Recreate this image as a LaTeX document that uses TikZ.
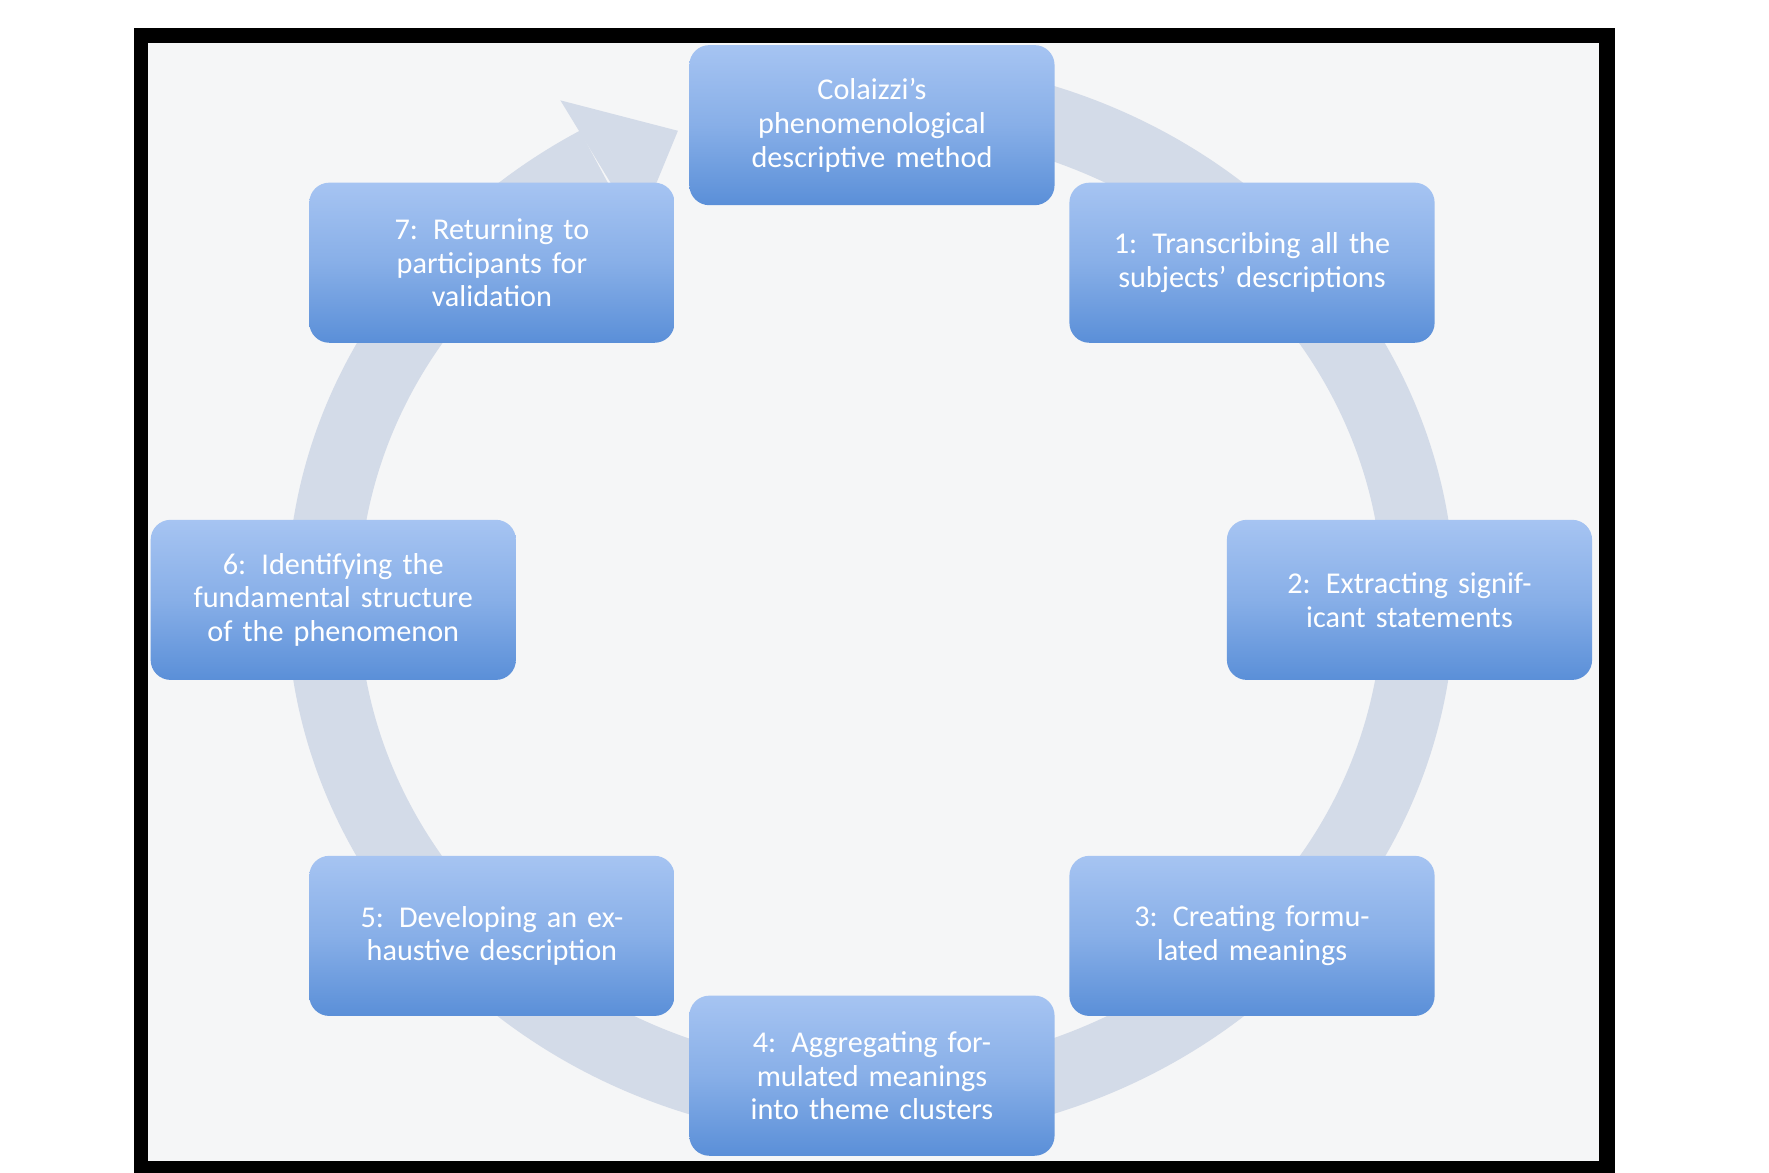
\documentclass[tikz,border=0pt]{standalone}
\usepackage{fontspec}
\setmainfont{Carlito}
\definecolor{ring}{HTML}{D3DBE8}
\definecolor{btop}{HTML}{A6C4F2}
\definecolor{bbot}{HTML}{5A8FD8}
\definecolor{bg}{HTML}{F5F6F7}
\begin{document}
\begin{tikzpicture}[x=0.011413cm,y=0.011269cm,
  box/.style={rectangle,rounded corners=0.2cm,minimum width=320*0.011413cm,minimum height=142*0.011269cm,
    top color=btop,bottom color=bbot,middle color=btop!60!bbot,draw=none,text=white,align=center,
    font=\fontsize{8.6pt}{9.6pt}\selectfont,text width=3.4cm}]
\useasboundingbox (0,0) rectangle (1550,1040);
\fill[white] (0,0) rectangle (1550,1040);
\fill[black] (117,-5) rectangle (1415,1015);
\fill[bg] (130,10) rectangle (1401,1002);
% ring
\draw[ring,line width=0.72cm] (763,508) ++(80:480 and 448) arc[start angle=80,end angle=-240,x radius=480,y radius=448];
\fill[ring] (491,951) -- (559,838) -- (594,924) -- cycle;
\node[box] (c) at (764,929) {Colaizzi's\\phenomenological\\descriptive method};
\node[box] (s1) at (1097,807) {1: Transcribing all the subjects’ descriptions};
\node[box] (s2) at (1235,508) {2: Extracting significant statements};
\node[box] (s3) at (1097,210) {3: Creating formulated meanings};
\node[box] (s4) at (764,86) {4: Aggregating formulated meanings into theme clusters};
\node[box] (s5) at (431,210) {5: Developing an exhaustive description};
\node[box] (s6) at (292,508) {6: Identifying the fundamental structure of the phenomenon};
\node[box] (s7) at (431,807) {7: Returning to\\participants for\\validation};
\end{tikzpicture}
\end{document}
